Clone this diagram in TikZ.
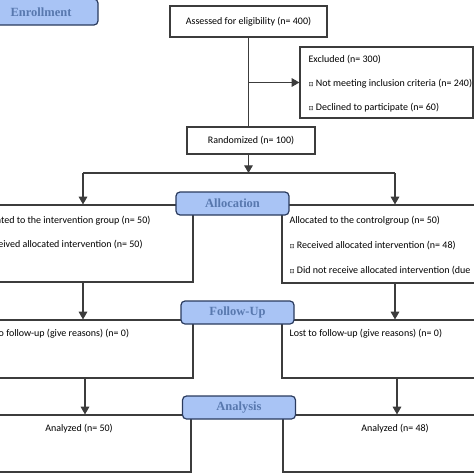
\documentclass[tikz,border=0pt]{standalone}
\usepackage{fontspec}
\setmainfont{Carlito}
\newfontfamily\stagefont{Liberation Serif}
\newfontfamily\symfont{DejaVu Sans}
\usetikzlibrary{arrows,positioning}

\definecolor{linegray}{HTML}{3C3C3C}
\definecolor{stagefill}{HTML}{A9C4F5}
\definecolor{stagedraw}{HTML}{2A3B5E}
\definecolor{stagetext}{HTML}{5878AE}
\newcommand{\bul}{{\symfont\fontsize{6}{6}\selectfont ⊡}}

\begin{document}
\begin{tikzpicture}[x=1pt,y=-1pt, every node/.style={font=\fontsize{10}{12}\selectfont}]
				\tikzstyle{myedgestyle} = [-triangle 60, draw=linegray, line width=1.1pt]
				\tikzstyle{myline} = [draw=linegray, line width=1.2pt]
				\tikzstyle{box} = [draw=linegray, line width=1.2pt, inner sep=0pt]
				\tikzstyle{txt} = [align=left, inner sep=0pt]
				\tikzstyle{stage} = [draw=stagedraw, fill=stagefill, line width=1.2pt, rounded corners=4pt,
					minimum width=113, minimum height=23, inner sep=0pt,
					font=\stagefont\bfseries\fontsize{12.5}{14}\selectfont, text=stagetext]
				
				\useasboundingbox (0,0) rectangle (474,474);
				\clip (0,0) rectangle (474,474);
				
				% boxes
				\node[box, minimum width=157, minimum height=31] (assess) at (248.5,21.5) {Assessed for eligibility (n= 400)};
				\node[box, minimum width=173, minimum height=71] (excl) at (386.5,82.5) {};
				\node[txt, below right=8.5pt and 9pt of excl.north west, font=\fontsize{10}{24}\selectfont] (excltxt)
					{Excluded (n= 300)\\\bul\ Not meeting inclusion criteria (n= 240)\\\bul\ Declined to participate (n= 60)};
				\node[box, minimum width=128, minimum height=27] (rand) at (251,140.5) {Randomized (n= 100)};
				
				\node[box, minimum width=224, minimum height=77] (allocL) at (81,243.5) {};
				\node[txt, below right=11.5pt and 8pt of allocL.north west, font=\fontsize{10}{24}\selectfont] (allocLtxt)
					{Allocated to the intervention group (n= 50)\\\bul\ Received allocated intervention (n= 50)};
				\node[box, minimum width=224, minimum height=78] (allocR) at (394,244) {};
				\node[txt, below right=11.5pt and 8pt of allocR.north west, font=\fontsize{10}{25}\selectfont] (allocRtxt)
					{Allocated to the controlgroup (n= 50)\\\bul\ Received allocated intervention (n= 48)\\\bul\ Did not receive allocated intervention (due};
				
				\node[box, minimum width=224, minimum height=58] (fuL) at (81,349) {};
				\node[txt, below right=10pt and 8pt of fuL.north west] (fuLtxt) {Lost to follow-up (give reasons) (n= 0)};
				\node[box, minimum width=224, minimum height=58] (fuR) at (394,349) {};
				\node[txt, below right=10pt and 8pt of fuR.north west] (fuRtxt) {Lost to follow-up (give reasons) (n= 0)};
				
				\node[box, minimum width=224, minimum height=57] (anL) at (79,443.5) {};
				\node[txt, below=9.5pt of anL.north] (anLtxt) {Analyzed (n= 50)};
				\node[box, minimum width=224, minimum height=57] (anR) at (395,443.5) {};
				\node[txt, below=9.5pt of anR.north] (anRtxt) {Analyzed (n= 48)};
				
				% stage labels
				\node[stage, minimum width=114, minimum height=26] (enroll) at (41,12) {Enrollment};
				\node[stage] (alloc) at (232.5,203.5) {Allocation};
				\node[stage] (follow) at (237.5,312.5) {Follow-Up};
				\node[stage] (analysis) at (239,407.5) {Analysis};
				
				% connectors
				\coordinate (ex) at (assess.south |- excl.west);
				\coordinate (split) at (assess.south |- 0,173);
				\coordinate (colL) at (83,173);
				\coordinate (colR) at (395,173);
				\coordinate (colLL) at (85,0);
				\coordinate (colRR) at (397,0);
				
				\draw [myline] (assess.south) -- (assess.south |- rand.north);
				\draw [myedgestyle] (ex) -- (excl.west);
				\draw [myedgestyle] (assess.south |- rand.south) -- (split);
				\draw [myline] (colL) -- (colR);
				\draw [myedgestyle] (colL) -- (colL |- allocL.north);
				\draw [myedgestyle] (colR) -- (colR |- allocR.north);
				\draw [myedgestyle] (colL |- allocL.south) -- (colL |- fuL.north);
				\draw [myedgestyle] (colR |- allocR.south) -- (colR |- fuR.north);
				\draw [myedgestyle] (colLL |- fuL.south) -- (colLL |- anL.north);
				\draw [myedgestyle] (colRR |- fuR.south) -- (colRR |- anR.north);
				
				\end{tikzpicture}
\end{document}
